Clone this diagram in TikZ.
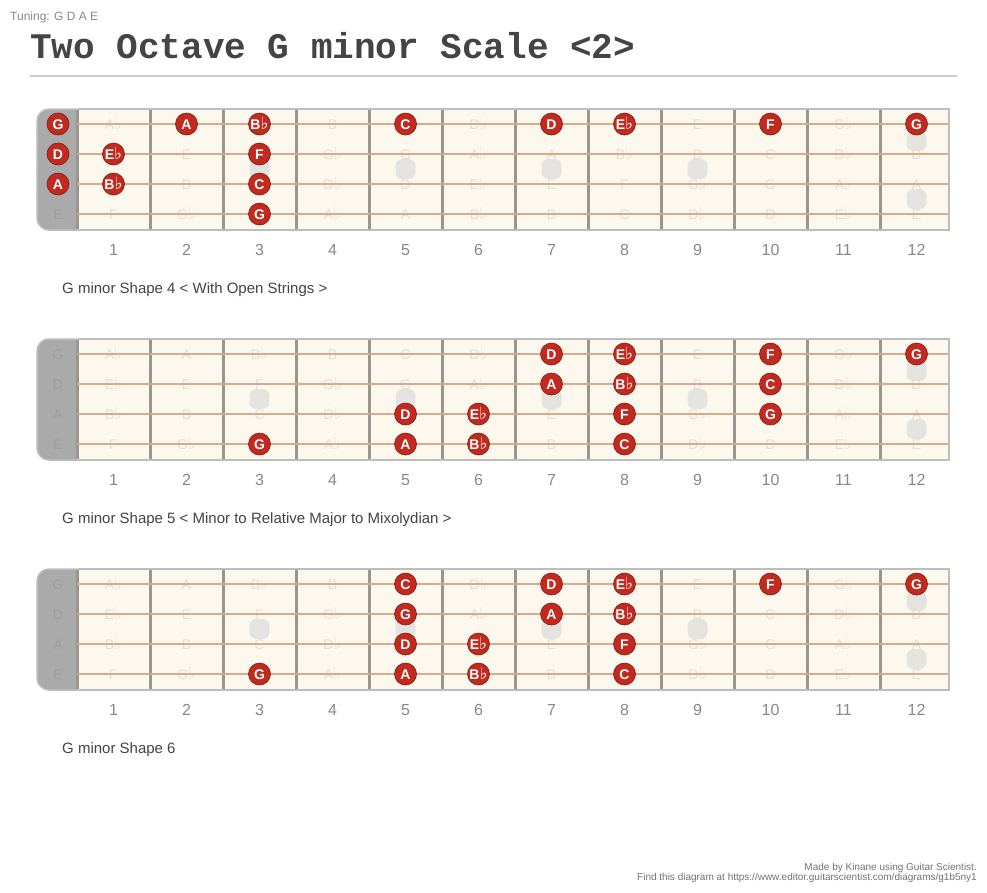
\documentclass[tikz,border=0pt]{standalone}
\usepackage{fontspec}
\setmainfont{Liberation Sans}
\newfontfamily\titlefont{Liberation Mono}
\newfontfamily\flatfont[Scale=1.2]{DejaVu Sans}
\newcommand\fl{{\flatfont ♭}}
\definecolor{boardbg}{HTML}{FDF8EE}
\definecolor{nutgray}{HTML}{AAAAAA}
\definecolor{bordergray}{HTML}{BDBDBD}
\definecolor{fretc}{HTML}{9A958F}
\definecolor{stringc}{HTML}{D6AD8C}
\definecolor{faint}{HTML}{E2DED6}
\definecolor{nutfaint}{HTML}{9D9D9D}
\definecolor{noteR}{HTML}{C22A20}
\definecolor{noteB}{HTML}{7E1812}
\definecolor{inlay}{HTML}{E4E3DF}
\definecolor{titlec}{HTML}{444444}
\definecolor{numc}{HTML}{888888}
\tikzset{
  faintnote/.style={text=faint, inner sep=0pt, text height=10pt, text depth=0pt,
    font=\fontsize{14}{14}\selectfont},
  nutnote/.style={faintnote, text=nutfaint},
  rednote/.style={circle, fill=noteR, draw=noteB, line width=0.6pt, minimum size=22pt,
    inner sep=0pt, text=white, text height=10pt, text depth=0pt,
    font=\bfseries\fontsize{14}{14}\selectfont},
  stringline/.style={draw=stringc, line width=2pt},
  fretline/.style={draw=fretc, line width=3pt},
  inlaydot/.style={fill=inlay, rounded corners=7pt},
  fretnum/.style={text=numc, font=\fontsize{16}{16}\selectfont, inner sep=0pt},
  caption/.style={text=titlec, font=\fontsize{15}{15}\selectfont, anchor=west, inner sep=0pt},
}
% #1 board id, #2 string idx, #3 y, #4 names, #5 highlight list, #6 mode (0 faint, 1 red)
\newcommand\stringrow[6]{%
  \foreach \n [count=\f from 0] in {#4} {%
    \gdef\ishl{0}%
    \foreach \k in {#5} {\ifnum\k=\f\relax\gdef\ishl{1}\fi}%
    \pgfmathsetmacro\xx{ifthenelse(\f==0,58,40.5+73*\f)}%
    \ifnum#6=0
      \ifnum\ishl=0
        \ifnum\f=0
          \node[nutnote] (n#1-#2-\f) at (\xx,#3) {\n};
        \else
          \node[faintnote] (n#1-#2-\f) at (\xx,#3) {\n};
        \fi
      \fi
    \else
      \ifnum\ishl=1
        \node[rednote] (n#1-#2-\f) at (\xx,#3) {\n};
      \fi
    \fi
  }%
}
% #1 id, #2 y0, #3..#6 highlights G D A E
\newcommand\fretboard[6]{%
  \begin{scope}[shift={(0,#2)}]
    \fill[nutgray, rounded corners=12pt] (37,0) rectangle (110,121);
    \fill[boardbg] (77,0) rectangle (949,121);
    \draw[bordergray, line width=1.5pt, rounded corners=12pt] (80,0) -- (37,0) -- (37,121) -- (80,121);
    \draw[bordergray, line width=1.5pt] (79,0) -- (949,0) -- (949,121) -- (79,121);
    \foreach \k in {0,...,11} \draw[fretline] ({77+73*\k},0.75) -- ({77+73*\k},120.25);
    \foreach \f in {3,5,7,9} \fill[inlaydot] ({40.5+73*\f-10},50) rectangle ++(20,20);
    \fill[inlaydot] ({40.5+73*12-10},22) rectangle ++(20,20);
    \fill[inlaydot] ({40.5+73*12-10},80) rectangle ++(20,20);
    \stringrow{#1}{1}{15}{G,A\fl,A,B\fl,B,C,D\fl,D,E\fl,E,F,G\fl,G}{#3}{0}
    \stringrow{#1}{2}{45}{D,E\fl,E,F,G\fl,G,A\fl,A,B\fl,B,C,D\fl,D}{#4}{0}
    \stringrow{#1}{3}{75}{A,B\fl,B,C,D\fl,D,E\fl,E,F,G\fl,G,A\fl,A}{#5}{0}
    \stringrow{#1}{4}{105}{E,F,G\fl,G,A\fl,A,B\fl,B,C,D\fl,D,E\fl,E}{#6}{0}
    \foreach \yy in {15,45,75,105} \draw[stringline] (77,\yy) -- (948,\yy);
    \stringrow{#1}{1}{15}{G,A\fl,A,B\fl,B,C,D\fl,D,E\fl,E,F,G\fl,G}{#3}{1}
    \stringrow{#1}{2}{45}{D,E\fl,E,F,G\fl,G,A\fl,A,B\fl,B,C,D\fl,D}{#4}{1}
    \stringrow{#1}{3}{75}{A,B\fl,B,C,D\fl,D,E\fl,E,F,G\fl,G,A\fl,A}{#5}{1}
    \stringrow{#1}{4}{105}{E,F,G\fl,G,A\fl,A,B\fl,B,C,D\fl,D,E\fl,E}{#6}{1}
    \foreach \k in {1,...,12} \node[fretnum] (fn#1-\k) at ({40.5+73*\k},141) {\k};
  \end{scope}%
}
\begin{document}
\begin{tikzpicture}[x=1pt,y=-1pt]
  \useasboundingbox (0,0) rectangle (987,892);
  \fill[white] (0,0) rectangle (987,892);
  \node[anchor=base west, inner sep=0pt, text=numc, font=\fontsize{12}{12}\selectfont] (tuning) at (10,20) {Tuning: G D A E};
  \node[anchor=base west, inner sep=0pt, text=titlec, font=\titlefont\bfseries\fontsize{36}{36}\selectfont] (title) at (30,58) {Two Octave G minor Scale <2>};
  \draw[draw=black!20, line width=2pt] (30,75.5) -- (957,75.5);
  \fretboard{1}{109}{-1,0,2,3,5,7,8,10,12}{-1,0,1,3}{-1,0,1,3}{-1,3}
  \node[caption] (cap1) at (62,290) {G minor Shape 4 < With Open Strings >};
  \fretboard{2}{339}{-1,7,8,10,12}{-1,7,8,10}{-1,5,6,8,10}{-1,3,5,6,8}
  \node[caption] (cap2) at (62,520) {G minor Shape 5 < Minor to Relative Major to Mixolydian >};
  \fretboard{3}{569}{-1,5,7,8,10,12}{-1,5,7,8}{-1,5,6,8}{-1,3,5,6,8}
  \node[caption] (cap3) at (62,750) {G minor Shape 6};
  \node[anchor=base east, inner sep=0pt, text=black!55, font=\fontsize{10}{10}\selectfont] (foot1) at (977,870) {Made by Kinane using Guitar Scientist.};
  \node[anchor=base east, inner sep=0pt, text=black!55, font=\fontsize{10}{10}\selectfont] (foot2) at (977,880) {Find this diagram at https://www.editor.guitarscientist.com/diagrams/g1b5ny1};
\end{tikzpicture}
\end{document}
